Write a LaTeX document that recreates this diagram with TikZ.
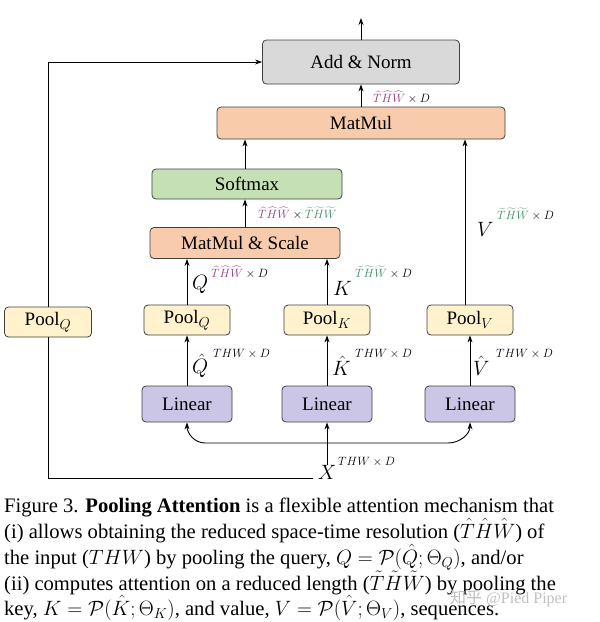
\documentclass[tikz,border=0pt]{standalone}
\usepackage{fontspec}
\setmainfont{Liberation Serif}
\newfontfamily\cjk{Noto Sans CJK SC}
\usetikzlibrary{arrows.meta}
\definecolor{cgray}{HTML}{D9D9D9}
\definecolor{corange}{HTML}{F8CBAD}
\definecolor{cgreen}{HTML}{C5E0B4}
\definecolor{cyellow}{HTML}{FFF2CC}
\definecolor{cpurple}{HTML}{CCC6E6}
\definecolor{tpurple}{HTML}{8E3C7E}
\definecolor{tgreen}{HTML}{3E8E66}
\newcommand{\hthw}{\textcolor{tpurple}{\widehat{T}\widehat{H}\widehat{W}}}
\newcommand{\tthw}{\textcolor{tgreen}{\widetilde{T}\widetilde{H}\widetilde{W}}}
\begin{document}
\begin{tikzpicture}[x=1pt,y=-1pt,
  box/.style={draw=black!75,line width=0.8pt,rounded corners=4pt,font=\fontsize{19}{22}\selectfont,inner sep=0pt},
  arr/.style={-{Stealth[length=7pt,width=5pt]},line width=0.9pt},
  lab/.style={anchor=west,inner sep=0pt,font=\fontsize{21}{24}\selectfont},
  dim/.style={anchor=west,inner sep=0pt,font=\fontsize{13}{15}\selectfont},
  captext/.style={anchor=base west,inner sep=0pt,font=\fontsize{20.6}{24}\selectfont}]
\useasboundingbox (0,0) rectangle (600,622);
\node[box,fill=cgray,minimum width=197pt,minimum height=44pt] (add) at (361,62) {Add \& Norm};
\node[box,fill=corange,minimum width=288pt,minimum height=32pt] (mm) at (361,123) {MatMul};
\node[box,fill=cgreen,minimum width=190pt,minimum height=30pt] (sm) at (247,184) {Softmax};
\node[box,fill=corange,minimum width=190pt,minimum height=31pt] (mms) at (245,243) {MatMul \& Scale};
\node[box,fill=cyellow,minimum width=87pt,minimum height=30pt] (p0) at (48,322) {Pool$_Q$};
\node[box,fill=cyellow,minimum width=86pt,minimum height=30pt] (pq) at (187,320) {Pool$_Q$};
\node[box,fill=cyellow,minimum width=86pt,minimum height=30pt] (pk) at (327,320) {Pool$_K$};
\node[box,fill=cyellow,minimum width=86pt,minimum height=30pt] (pv) at (470,320) {Pool$_V$};
\node[box,fill=cpurple,minimum width=90pt,minimum height=36pt] (lq) at (187,404) {Linear};
\node[box,fill=cpurple,minimum width=90pt,minimum height=36pt] (lk) at (327,404) {Linear};
\node[box,fill=cpurple,minimum width=90pt,minimum height=36pt] (lv) at (470,404) {Linear};
\coordinate (out) at (361,18);
\node[lab,anchor=center] (X) at (327,472) {$X$};
\node[dim] (xd) at (338,462) {$THW\times D$};
% arrows
\draw[arr] (add.north) -- (out);
\draw[arr] (mm.north) -- (add.south);
\draw[arr] (sm.north -| 245,0) -- (mm.south -| 245,0);
\draw[arr] (mms.north) -- (sm.south -| mms.north);
\draw[arr] (pq.north) -- (mms.south -| pq.north);
\draw[arr] (pk.north) -- (mms.south -| pk.north);
\draw[arr] (pv.north -| 465,0) -- (mm.south -| 465,0);
\draw[arr] (lq.north) -- (pq.south);
\draw[arr] (lk.north) -- (pk.south);
\draw[arr] (lv.north) -- (pv.south);
\draw[arr] (X.north) -- (lk.south);
\coordinate (j) at (327,443);
\draw[arr] (j) -- (205,443) to[out=180,in=-90] (lq.south);
\draw[arr] (j) -- (448,443) to[out=0,in=-90] (lv.south);
\coordinate (xl) at (313,478);
\draw[line width=0.8pt] (xl) -| (p0.south);
\draw[arr,line width=0.8pt] (p0.north) |- (add.west);
% labels
\node[dim] at (373,97) {$\hthw\times D$};
\node[dim] at (258,213) {$\hthw\times\tthw$};
\node[lab] at (192,284) {$Q$};
\node[dim] at (211,272) {$\hthw\times D$};
\node[lab] at (333,288) {$K$};
\node[dim] at (355,272) {$\tthw\times D$};
\node[lab] at (477,229) {$V$};
\node[dim] at (497,214) {$\tthw\times D$};
\node[lab] at (192,366) {$\hat Q$};
\node[dim] at (213,354) {$THW\times D$};
\node[lab] at (332,366) {$\hat K$};
\node[dim] at (355,354) {$THW\times D$};
\node[lab] at (473,366) {$\hat V$};
\node[dim] at (496,354) {$THW\times D$};
% caption
\node[captext] at (4,512) {Figure 3. \textbf{Pooling Attention} is a flexible attention mechanism that};
\node[captext] at (4,538) {(i) allows obtaining the reduced space-time resolution ($\hat T\hat H\hat W$) of};
\node[captext] at (4,564) {the input ($THW$) by pooling the query, $Q=\mathcal{P}(\hat Q;\Theta_Q)$, and/or};
\node[captext] at (4,590) {(ii) computes attention on a reduced length ($\tilde T\tilde H\tilde W$) by pooling the};
\node[captext] at (4,615) {key, $K=\mathcal{P}(\hat K;\Theta_K)$, and value, $V=\mathcal{P}(\hat V;\Theta_V)$, sequences.};
\node[anchor=base west,inner sep=0pt,text=black!25,font=\fontsize{16}{18}\selectfont] at (450,603) {{\cjk 知乎} @Pied Piper};
\end{tikzpicture}
\end{document}
